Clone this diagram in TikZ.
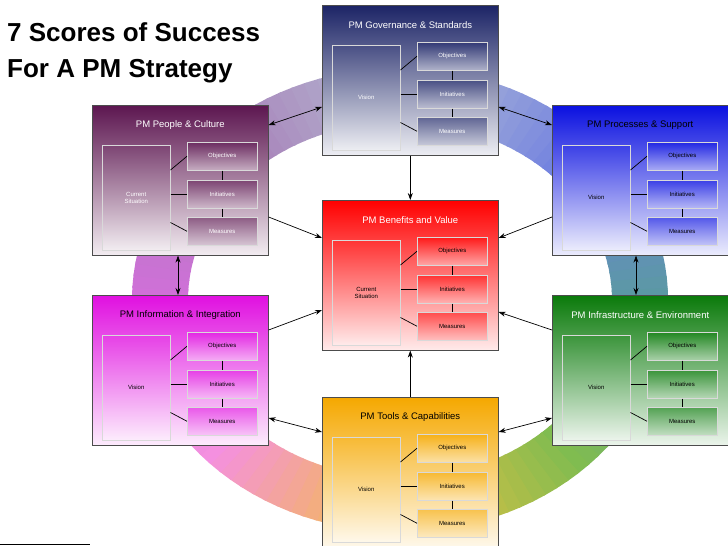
\documentclass[tikz,border=0pt]{standalone}
\usepackage{fontspec}
\setmainfont{Liberation Sans}
\usetikzlibrary{arrows.meta}
\definecolor{k0}{HTML}{B4BCD4}
\definecolor{k1}{HTML}{7080E0}
\definecolor{k2}{HTML}{5A9AA0}
\definecolor{k3}{HTML}{80BC50}
\definecolor{k4}{HTML}{F2C040}
\definecolor{k5}{HTML}{F490E0}
\definecolor{k6}{HTML}{D070D8}
\definecolor{k7}{HTML}{A880B8}
\definecolor{cgov}{HTML}{1C2466}
\definecolor{cppl}{HTML}{5C1650}
\definecolor{cproc}{HTML}{0A10E0}
\definecolor{cben}{HTML}{FF0000}
\definecolor{cinf}{HTML}{E010E0}
\definecolor{cenv}{HTML}{0A7A0A}
\definecolor{ctool}{HTML}{F5A800}
\tikzset{
 outer/.style={draw=black!70,line width=0.6pt,anchor=north west,minimum width=176pt,minimum height=150pt,inner sep=0pt},
 inner/.style={draw=white!85!black,line width=0.5pt,anchor=north west,inner sep=0pt,font=\fontsize{6}{7}\selectfont,align=center},
 ttl/.style={font=\fontsize{9.5}{11}\selectfont,anchor=center},
 link/.style={line width=0.7pt,black},
 arr/.style={line width=0.7pt,-{Stealth[length=7pt,width=5pt]}},
 darr/.style={line width=0.7pt,{Stealth[length=7pt,width=5pt]}-{Stealth[length=7pt,width=5pt]}}
}
\newcommand\pmbox[8]{% name x y color title left textcolor titlecolor
 \node[outer,top color=#4,bottom color=#4!8] (#1) at (#2,#3) {};
 \node[ttl,text=#8] (#1-t) at ([yshift=-20pt]#1.north) {#5};
 \node[inner,text=#7,minimum width=68pt,minimum height=105pt,top color=#4!80,bottom color=#4!8] (#1-l) at ([xshift=10pt,yshift=-40pt]#1.north west) {#6};
 \node[inner,text=#7,minimum width=70pt,minimum height=28pt,top color=#4!90,bottom color=#4!35] (#1-o) at ([xshift=95pt,yshift=-37pt]#1.north west) {Objectives};
 \node[inner,text=#7,minimum width=70pt,minimum height=28pt,top color=#4!80,bottom color=#4!30] (#1-i) at ([xshift=95pt,yshift=-75pt]#1.north west) {Initiatives};
 \node[inner,text=#7,minimum width=70pt,minimum height=28pt,top color=#4!70,bottom color=#4!25] (#1-m) at ([xshift=95pt,yshift=-112pt]#1.north west) {Measures};
 \draw[link] ([yshift=-25pt]#1-l.north east) -- (#1-o.west);
 \draw[link] (#1-l.east |- #1-i.west) -- (#1-i.west);
 \draw[link] ([yshift=28pt]#1-l.south east) -- (#1-m.west);
 \draw[link] (#1-o.south) -- (#1-i.north);
 \draw[link] (#1-i.south) -- (#1-m.north);
}
\begin{document}
\begin{tikzpicture}[x=1pt,y=-1pt]
\useasboundingbox (0,0) rectangle (728,546);
\fill[white] (0,0) rectangle (728,546);
% ring
\foreach \s/\ca/\cb in {0/k0/k1,1/k1/k2,2/k2/k3,3/k3/k4,4/k4/k5,5/k5/k6,6/k6/k7,7/k7/k0}{
 \foreach \j in {0,...,14}{
  \pgfmathsetmacro\aa{-90+\s*45+\j*3}
  \pgfmathsetmacro\bb{\aa+3.6}
  \pgfmathtruncatemacro\pp{100-\j*100/15}
  \fill[\ca!\pp!\cb] ({400+268*cos(\aa)},{300+232*sin(\aa)}) arc[start angle=\aa,end angle=\bb,x radius=268,y radius=232]
   -- ({400+212*cos(\bb)},{300+178*sin(\bb)}) arc[start angle=\bb,end angle=\aa,x radius=212,y radius=178] -- cycle;
 }
}
\node[anchor=north west,align=left,inner sep=0pt,font=\bfseries\fontsize{26}{36}\selectfont] (title) at (7,22) {7 Scores of Success\\For A PM Strategy};
\pmbox{gov}{322}{5}{cgov}{PM Governance \& Standards}{Vision}{white}{white}
\pmbox{ppl}{92}{105}{cppl}{PM People \& Culture}{Current\\Situation}{white}{white}
\pmbox{proc}{552}{105}{cproc}{PM Processes \& Support}{Vision}{black}{black}
\pmbox{ben}{322}{200}{cben}{PM Benefits and Value}{Current\\Situation}{black}{white}
\pmbox{inf}{92}{295}{cinf}{PM Information \& Integration}{Vision}{black}{black}
\pmbox{env}{552}{295}{cenv}{PM Infrastructure \& Environment}{Vision}{black}{white}
\pmbox{tool}{322}{397}{ctool}{PM Tools \& Capabilities}{Vision}{black}{black}
% connectors
\draw[darr] ([yshift=-20pt]ppl.north east) -- ([yshift=-102pt]gov.north west);
\draw[darr] ([yshift=-20pt]proc.north west) -- ([yshift=-102pt]gov.north east);
\draw[arr] (gov.south) -- (ben.north);
\draw[arr] (tool.north) -- (ben.south);
\draw[arr] ([yshift=-112pt]ppl.north east) -- ([yshift=-38pt]ben.north west);
\draw[arr] ([yshift=-112pt]proc.north west) -- ([yshift=-38pt]ben.north east);
\draw[arr] ([yshift=-35pt]inf.north west -| inf.east) -- ([yshift=-110pt]ben.north west);
\draw[arr] ([yshift=-35pt]env.north west) -- ([yshift=-112pt]ben.north east);
\draw[darr] ([xshift=86pt]ppl.south west) -- ([xshift=86pt]inf.north west);
\draw[darr] ([xshift=84pt]proc.south west) -- ([xshift=84pt]env.north west);
\draw[darr] ([yshift=-123pt]inf.north east) -- ([yshift=-35pt]tool.north west);
\draw[darr] ([yshift=-123pt]env.north west) -- ([yshift=-35pt]tool.north east);
\coordinate (la) at (0,544); \coordinate (lb) at (90,544);
\draw[line width=0.8pt] (la) -- (lb);
\end{tikzpicture}
\end{document}
